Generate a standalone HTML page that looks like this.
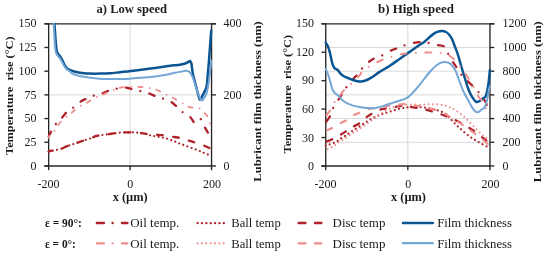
<!DOCTYPE html>
<html><head><meta charset="utf-8"><style>html,body{margin:0;padding:0;background:#fff;width:550px;height:257px;overflow:hidden}svg{display:block;will-change:transform}</style></head>
<body><svg width="550" height="257" viewBox="0 0 550 257" font-family='"Liberation Serif", serif' fill="#1a1a1a"><line x1="48.65" y1="94.88" x2="211.55" y2="94.88" stroke="#D9D9D9" stroke-width="1"/>
<line x1="130.10" y1="23.8" x2="130.10" y2="165.95" stroke="#D9D9D9" stroke-width="1"/>
<line x1="325.75" y1="142.26" x2="489.95" y2="142.26" stroke="#D9D9D9" stroke-width="1"/>
<line x1="325.75" y1="118.57" x2="489.95" y2="118.57" stroke="#D9D9D9" stroke-width="1"/>
<line x1="325.75" y1="94.88" x2="489.95" y2="94.88" stroke="#D9D9D9" stroke-width="1"/>
<line x1="325.75" y1="71.18" x2="489.95" y2="71.18" stroke="#D9D9D9" stroke-width="1"/>
<line x1="325.75" y1="47.49" x2="489.95" y2="47.49" stroke="#D9D9D9" stroke-width="1"/>
<line x1="407.85" y1="23.8" x2="407.85" y2="165.95" stroke="#D9D9D9" stroke-width="1"/>
<line x1="48.65" y1="23.2" x2="48.65" y2="166.54999999999998" stroke="#262626" stroke-width="1.35"/>
<line x1="211.55" y1="23.2" x2="211.55" y2="166.54999999999998" stroke="#262626" stroke-width="1.35"/>
<line x1="44.35" y1="165.95" x2="212.15" y2="165.95" stroke="#262626" stroke-width="1.35"/>
<line x1="44.35" y1="23.8" x2="215.95000000000002" y2="23.8" stroke="#262626" stroke-width="1.35"/>
<line x1="44.35" y1="165.95" x2="48.65" y2="165.95" stroke="#262626" stroke-width="1.35"/>
<line x1="44.35" y1="142.26" x2="48.65" y2="142.26" stroke="#262626" stroke-width="1.35"/>
<line x1="44.35" y1="118.57" x2="48.65" y2="118.57" stroke="#262626" stroke-width="1.35"/>
<line x1="44.35" y1="94.88" x2="48.65" y2="94.88" stroke="#262626" stroke-width="1.35"/>
<line x1="44.35" y1="71.18" x2="48.65" y2="71.18" stroke="#262626" stroke-width="1.35"/>
<line x1="44.35" y1="47.49" x2="48.65" y2="47.49" stroke="#262626" stroke-width="1.35"/>
<line x1="44.35" y1="23.80" x2="48.65" y2="23.80" stroke="#262626" stroke-width="1.35"/>
<line x1="211.55" y1="165.95" x2="215.95000000000002" y2="165.95" stroke="#262626" stroke-width="1.35"/>
<line x1="211.55" y1="94.88" x2="215.95000000000002" y2="94.88" stroke="#262626" stroke-width="1.35"/>
<line x1="211.55" y1="23.80" x2="215.95000000000002" y2="23.80" stroke="#262626" stroke-width="1.35"/>
<line x1="48.65" y1="165.95" x2="48.65" y2="170.14999999999998" stroke="#262626" stroke-width="1.35"/>
<line x1="130.10" y1="165.95" x2="130.10" y2="170.14999999999998" stroke="#262626" stroke-width="1.35"/>
<line x1="211.55" y1="165.95" x2="211.55" y2="170.14999999999998" stroke="#262626" stroke-width="1.35"/>
<line x1="325.75" y1="23.2" x2="325.75" y2="166.54999999999998" stroke="#262626" stroke-width="1.35"/>
<line x1="489.95" y1="23.2" x2="489.95" y2="166.54999999999998" stroke="#262626" stroke-width="1.35"/>
<line x1="321.45" y1="165.95" x2="490.55" y2="165.95" stroke="#262626" stroke-width="1.35"/>
<line x1="321.45" y1="23.8" x2="494.34999999999997" y2="23.8" stroke="#262626" stroke-width="1.35"/>
<line x1="321.45" y1="165.95" x2="325.75" y2="165.95" stroke="#262626" stroke-width="1.35"/>
<line x1="321.45" y1="137.52" x2="325.75" y2="137.52" stroke="#262626" stroke-width="1.35"/>
<line x1="321.45" y1="109.09" x2="325.75" y2="109.09" stroke="#262626" stroke-width="1.35"/>
<line x1="321.45" y1="80.66" x2="325.75" y2="80.66" stroke="#262626" stroke-width="1.35"/>
<line x1="321.45" y1="52.23" x2="325.75" y2="52.23" stroke="#262626" stroke-width="1.35"/>
<line x1="321.45" y1="23.80" x2="325.75" y2="23.80" stroke="#262626" stroke-width="1.35"/>
<line x1="489.95" y1="165.95" x2="494.34999999999997" y2="165.95" stroke="#262626" stroke-width="1.35"/>
<line x1="489.95" y1="142.26" x2="494.34999999999997" y2="142.26" stroke="#262626" stroke-width="1.35"/>
<line x1="489.95" y1="118.57" x2="494.34999999999997" y2="118.57" stroke="#262626" stroke-width="1.35"/>
<line x1="489.95" y1="94.88" x2="494.34999999999997" y2="94.88" stroke="#262626" stroke-width="1.35"/>
<line x1="489.95" y1="71.18" x2="494.34999999999997" y2="71.18" stroke="#262626" stroke-width="1.35"/>
<line x1="489.95" y1="47.49" x2="494.34999999999997" y2="47.49" stroke="#262626" stroke-width="1.35"/>
<line x1="489.95" y1="23.80" x2="494.34999999999997" y2="23.80" stroke="#262626" stroke-width="1.35"/>
<line x1="325.75" y1="165.95" x2="325.75" y2="170.14999999999998" stroke="#262626" stroke-width="1.35"/>
<line x1="407.85" y1="165.95" x2="407.85" y2="170.14999999999998" stroke="#262626" stroke-width="1.35"/>
<line x1="489.95" y1="165.95" x2="489.95" y2="170.14999999999998" stroke="#262626" stroke-width="1.35"/>
<defs><clipPath id="cl"><rect x="47.4" y="23.1" width="165.4" height="143.5"/></clipPath><clipPath id="cr"><rect x="324.5" y="23.1" width="166.6" height="143.5"/></clipPath></defs>
<path d="M48.50,151.50 C48.75,151.42 48.92,151.22 50.00,151.00 C51.08,150.78 53.17,150.57 55.00,150.20 C56.83,149.83 59.22,149.37 61.00,148.80 C62.78,148.23 64.23,147.40 65.70,146.80 C67.17,146.20 68.42,145.70 69.80,145.20 C71.18,144.70 72.18,144.42 74.00,143.80 C75.82,143.18 78.70,142.17 80.70,141.50 C82.70,140.83 84.18,140.38 86.00,139.80 C87.82,139.22 89.98,138.60 91.60,138.00 C93.22,137.40 94.30,136.65 95.70,136.20 C97.10,135.75 98.45,135.55 100.00,135.30 C101.55,135.05 103.33,134.92 105.00,134.70 C106.67,134.48 108.00,134.28 110.00,134.00 C112.00,133.72 114.83,133.25 117.00,133.00 C119.17,132.75 120.83,132.62 123.00,132.50 C125.17,132.38 127.67,132.28 130.00,132.30 C132.33,132.32 134.50,132.38 137.00,132.60 C139.50,132.82 143.00,133.28 145.00,133.60 C147.00,133.92 147.17,134.32 149.00,134.50 C150.83,134.68 153.53,134.58 156.00,134.70 C158.47,134.82 161.13,134.85 163.80,135.20 C166.47,135.55 169.30,136.37 172.00,136.80 C174.70,137.23 177.83,137.33 180.00,137.80 C182.17,138.27 182.50,138.82 185.00,139.60 C187.50,140.38 192.00,141.57 195.00,142.50 C198.00,143.43 200.67,144.32 203.00,145.20 C205.33,146.08 207.62,147.17 209.00,147.80 C210.38,148.43 210.92,148.80 211.30,149.00" fill="none" stroke="#B0222A" stroke-width="2.3" stroke-linejoin="round" stroke-linecap="round" stroke-dasharray="5.55 10.65" stroke-dashoffset="1.75" clip-path="url(#cl)"/>
<path d="M48.50,151.50 C48.75,151.42 48.92,151.22 50.00,151.00 C51.08,150.78 53.17,150.57 55.00,150.20 C56.83,149.83 59.22,149.37 61.00,148.80 C62.78,148.23 64.23,147.40 65.70,146.80 C67.17,146.20 68.42,145.70 69.80,145.20 C71.18,144.70 72.18,144.42 74.00,143.80 C75.82,143.18 78.70,142.17 80.70,141.50 C82.70,140.83 84.18,140.38 86.00,139.80 C87.82,139.22 89.98,138.60 91.60,138.00 C93.22,137.40 94.30,136.65 95.70,136.20 C97.10,135.75 98.45,135.55 100.00,135.30 C101.55,135.05 103.33,134.92 105.00,134.70 C106.67,134.48 108.00,134.28 110.00,134.00 C112.00,133.72 114.83,133.25 117.00,133.00 C119.17,132.75 120.83,132.62 123.00,132.50 C125.17,132.38 127.67,132.28 130.00,132.30 C132.33,132.32 134.50,132.38 137.00,132.60 C139.50,132.82 143.00,133.20 145.00,133.60 C147.00,134.00 147.57,134.60 149.00,135.00 C150.43,135.40 152.10,135.72 153.60,136.00 C155.10,136.28 156.50,136.45 158.00,136.70 C159.50,136.95 161.13,137.18 162.60,137.50 C164.07,137.82 165.38,138.17 166.80,138.60 C168.22,139.03 169.70,139.58 171.10,140.10 C172.50,140.62 173.90,141.17 175.20,141.70 C176.50,142.23 177.27,142.67 178.90,143.30 C180.53,143.93 182.32,144.52 185.00,145.50 C187.68,146.48 192.00,148.03 195.00,149.20 C198.00,150.37 200.67,151.53 203.00,152.50 C205.33,153.47 207.62,154.42 209.00,155.00 C210.38,155.58 210.92,155.83 211.30,156.00" fill="none" stroke="#B0222A" stroke-width="2.2" stroke-linejoin="round" stroke-linecap="round" stroke-dasharray="0.01 4.35" stroke-dashoffset="0" clip-path="url(#cl)"/>
<path d="M48.50,136.50 C49.08,135.42 50.80,132.05 52.00,130.00 C53.20,127.95 54.62,125.70 55.70,124.20 C56.78,122.70 57.53,121.98 58.50,121.00 C59.47,120.02 60.35,119.55 61.50,118.30 C62.65,117.05 64.15,114.80 65.40,113.50 C66.65,112.20 67.70,111.48 69.00,110.50 C70.30,109.52 71.53,108.88 73.20,107.60 C74.87,106.32 77.53,103.93 79.00,102.80 C80.47,101.67 80.85,101.45 82.00,100.80 C83.15,100.15 84.57,99.53 85.90,98.90 C87.23,98.27 88.65,97.55 90.00,97.00 C91.35,96.45 92.67,96.02 94.00,95.60 C95.33,95.18 96.67,94.85 98.00,94.50 C99.33,94.15 100.33,94.08 102.00,93.50 C103.67,92.92 105.67,91.78 108.00,91.00 C110.33,90.22 113.33,89.37 116.00,88.80 C118.67,88.23 122.00,87.73 124.00,87.60 C126.00,87.47 126.67,87.73 128.00,88.00 C129.33,88.27 130.00,88.70 132.00,89.20 C134.00,89.70 137.33,90.37 140.00,91.00 C142.67,91.63 145.33,92.10 148.00,93.00 C150.67,93.90 153.50,95.48 156.00,96.40 C158.50,97.32 160.53,97.62 163.00,98.50 C165.47,99.38 168.52,100.37 170.80,101.70 C173.08,103.03 174.68,104.72 176.70,106.50 C178.72,108.28 180.63,110.62 182.90,112.40 C185.17,114.18 188.32,115.48 190.30,117.20 C192.28,118.92 193.13,122.43 194.80,122.70 C196.47,122.97 198.70,118.15 200.30,118.80 C201.90,119.45 203.08,124.23 204.40,126.60 C205.72,128.97 207.05,131.27 208.20,133.00 C209.35,134.73 210.78,136.33 211.30,137.00" fill="none" stroke="#B0222A" stroke-width="2.3" stroke-linejoin="round" stroke-linecap="round" stroke-dasharray="5.7 9.05 0.01 9.29" stroke-dashoffset="0.3" clip-path="url(#cl)"/>
<path d="M54.30,22.50 C54.40,23.75 54.70,27.25 54.90,30.00 C55.10,32.75 55.30,36.25 55.50,39.00 C55.70,41.75 55.88,44.45 56.10,46.50 C56.32,48.55 56.48,50.08 56.80,51.30 C57.12,52.52 57.47,52.97 58.00,53.80 C58.53,54.63 59.37,55.40 60.00,56.30 C60.63,57.20 61.23,58.17 61.80,59.20 C62.37,60.23 62.83,61.37 63.40,62.50 C63.97,63.63 64.52,64.95 65.20,66.00 C65.88,67.05 66.53,68.08 67.50,68.80 C68.47,69.52 69.58,69.77 71.00,70.30 C72.42,70.83 74.17,71.55 76.00,72.00 C77.83,72.45 79.67,72.73 82.00,73.00 C84.33,73.27 86.83,73.50 90.00,73.60 C93.17,73.70 97.67,73.65 101.00,73.60 C104.33,73.55 106.83,73.53 110.00,73.30 C113.17,73.07 116.50,72.58 120.00,72.20 C123.50,71.82 126.83,71.50 131.00,71.00 C135.17,70.50 141.00,69.72 145.00,69.20 C149.00,68.68 151.17,68.42 155.00,67.90 C158.83,67.38 163.67,66.68 168.00,66.10 C172.33,65.52 178.12,64.83 181.00,64.40 C183.88,63.97 184.13,63.87 185.30,63.50 C186.47,63.13 187.28,62.60 188.00,62.20 C188.72,61.80 189.17,61.17 189.60,61.10 C190.03,61.03 190.28,61.32 190.60,61.80 C190.92,62.28 191.13,62.05 191.50,64.00 C191.87,65.95 192.23,70.50 192.80,73.50 C193.37,76.50 194.18,79.17 194.90,82.00 C195.62,84.83 196.38,87.83 197.10,90.50 C197.82,93.17 198.67,96.50 199.20,98.00 C199.73,99.50 199.77,99.85 200.30,99.50 C200.83,99.15 201.70,97.22 202.40,95.90 C203.10,94.58 203.78,93.20 204.50,91.60 C205.22,90.00 206.17,88.97 206.70,86.30 C207.23,83.63 207.35,79.52 207.70,75.60 C208.05,71.68 208.43,67.40 208.80,62.80 C209.17,58.20 209.57,52.47 209.90,48.00 C210.23,43.53 210.57,38.92 210.80,36.00 C211.03,33.08 211.22,31.42 211.30,30.50" fill="none" stroke="#0A5592" stroke-width="2.5" stroke-linejoin="round" stroke-linecap="round" clip-path="url(#cl)"/>
<path d="M48.50,137.50 C48.75,137.17 49.28,136.27 50.00,135.50 C50.72,134.73 51.88,133.90 52.80,132.90 C53.72,131.90 54.53,130.90 55.50,129.50 C56.47,128.10 57.52,126.00 58.60,124.50 C59.68,123.00 60.53,121.92 62.00,120.50 C63.47,119.08 65.90,117.25 67.40,116.00 C68.90,114.75 69.87,113.90 71.00,113.00 C72.13,112.10 73.03,111.50 74.20,110.60 C75.37,109.70 76.70,108.53 78.00,107.60 C79.30,106.67 80.53,105.80 82.00,105.00 C83.47,104.20 85.18,103.72 86.80,102.80 C88.42,101.88 90.00,100.47 91.70,99.50 C93.40,98.53 95.12,97.83 97.00,97.00 C98.88,96.17 100.83,95.42 103.00,94.50 C105.17,93.58 108.00,92.33 110.00,91.50 C112.00,90.67 113.17,90.17 115.00,89.50 C116.83,88.83 118.50,87.95 121.00,87.50 C123.50,87.05 126.83,86.88 130.00,86.80 C133.17,86.72 136.83,86.80 140.00,87.00 C143.17,87.20 146.17,87.50 149.00,88.00 C151.83,88.50 154.33,89.00 157.00,90.00 C159.67,91.00 162.37,92.70 165.00,94.00 C167.63,95.30 169.88,96.27 172.80,97.80 C175.72,99.33 180.07,101.75 182.50,103.20 C184.93,104.65 185.73,105.77 187.40,106.50 C189.07,107.23 190.63,107.37 192.50,107.60 C194.37,107.83 196.67,107.08 198.60,107.90 C200.53,108.72 202.62,111.05 204.10,112.50 C205.58,113.95 206.58,114.90 207.50,116.60 C208.42,118.30 208.97,121.22 209.60,122.70 C210.23,124.18 211.02,125.03 211.30,125.50" fill="none" stroke="#EF8C8C" stroke-width="1.8" stroke-linejoin="round" stroke-linecap="round" stroke-dasharray="4.15 7.375 0.01 6.715" stroke-dashoffset="2.225" clip-path="url(#cl)"/>
<path d="M53.60,22.50 C53.67,23.75 53.85,27.25 54.00,30.00 C54.15,32.75 54.33,36.25 54.50,39.00 C54.67,41.75 54.78,44.30 55.00,46.50 C55.22,48.70 55.43,50.78 55.80,52.20 C56.17,53.62 56.63,54.12 57.20,55.00 C57.77,55.88 58.55,56.62 59.20,57.50 C59.85,58.38 60.52,59.33 61.10,60.30 C61.68,61.27 62.12,62.23 62.70,63.30 C63.28,64.37 63.88,65.67 64.60,66.70 C65.32,67.73 66.10,68.70 67.00,69.50 C67.90,70.30 68.95,70.72 70.00,71.50 C71.05,72.28 71.63,73.45 73.30,74.20 C74.97,74.95 77.73,75.48 80.00,76.00 C82.27,76.52 84.40,76.92 86.90,77.30 C89.40,77.68 92.32,78.03 95.00,78.30 C97.68,78.57 99.67,78.77 103.00,78.90 C106.33,79.03 111.33,79.08 115.00,79.10 C118.67,79.12 122.33,79.08 125.00,79.00 C127.67,78.92 128.50,78.80 131.00,78.60 C133.50,78.40 136.00,78.15 140.00,77.80 C144.00,77.45 150.83,76.97 155.00,76.50 C159.17,76.03 161.67,75.62 165.00,75.00 C168.33,74.38 172.17,73.38 175.00,72.80 C177.83,72.22 180.28,71.83 182.00,71.50 C183.72,71.17 184.03,70.72 185.30,70.80 C186.57,70.88 188.35,70.85 189.60,72.00 C190.85,73.15 191.73,75.15 192.80,77.70 C193.87,80.25 194.93,84.27 196.00,87.30 C197.07,90.33 198.32,93.77 199.20,95.90 C200.08,98.03 200.58,99.57 201.30,100.10 C202.02,100.63 202.60,100.33 203.50,99.10 C204.40,97.87 205.82,95.55 206.70,92.70 C207.58,89.85 208.25,85.45 208.80,82.00 C209.35,78.55 209.58,75.50 210.00,72.00 C210.42,68.50 211.08,62.83 211.30,61.00" fill="none" stroke="#74A7D6" stroke-width="2.0" stroke-linejoin="round" stroke-linecap="round" clip-path="url(#cl)"/>
<path d="M325.50,123.00 C325.83,122.50 326.78,121.08 327.50,120.00 C328.22,118.92 328.90,118.42 329.80,116.50 C330.70,114.58 331.60,111.08 332.90,108.50 C334.20,105.92 336.05,103.42 337.60,101.00 C339.15,98.58 340.72,96.33 342.20,94.00 C343.68,91.67 345.20,88.87 346.50,87.00 C347.80,85.13 348.65,84.38 350.00,82.80 C351.35,81.22 353.25,78.97 354.60,77.50 C355.95,76.03 356.87,75.50 358.10,74.00 C359.33,72.50 360.68,70.17 362.00,68.50 C363.32,66.83 364.67,65.25 366.00,64.00 C367.33,62.75 368.50,62.00 370.00,61.00 C371.50,60.00 373.00,58.92 375.00,58.00 C377.00,57.08 379.50,56.67 382.00,55.50 C384.50,54.33 387.67,52.15 390.00,51.00 C392.33,49.85 393.50,49.55 396.00,48.60 C398.50,47.65 402.17,46.23 405.00,45.30 C407.83,44.37 410.33,43.55 413.00,43.00 C415.67,42.45 418.33,42.00 421.00,42.00 C423.67,42.00 426.33,42.50 429.00,43.00 C431.67,43.50 434.50,44.43 437.00,45.00 C439.50,45.57 442.42,45.57 444.00,46.40 C445.58,47.23 445.75,48.65 446.50,50.00 C447.25,51.35 447.58,52.75 448.50,54.50 C449.42,56.25 450.75,58.50 452.00,60.50 C453.25,62.50 454.83,64.67 456.00,66.50 C457.17,68.33 457.83,69.83 459.00,71.50 C460.17,73.17 461.83,75.17 463.00,76.50 C464.17,77.83 464.73,78.25 466.00,79.50 C467.27,80.75 468.67,82.08 470.60,84.00 C472.53,85.92 475.68,88.73 477.60,91.00 C479.52,93.27 480.77,95.77 482.10,97.60 C483.43,99.43 484.70,100.27 485.60,102.00 C486.50,103.73 486.78,106.17 487.50,108.00 C488.22,109.83 489.50,112.17 489.90,113.00" fill="none" stroke="#B0222A" stroke-width="2.3" stroke-linejoin="round" stroke-linecap="round" stroke-dasharray="5.7 9.05 0.01 9.74" stroke-dashoffset="22.2" clip-path="url(#cr)"/>
<path d="M325.50,145.50 C326.08,145.33 327.67,144.92 329.00,144.50 C330.33,144.08 332.17,143.53 333.50,143.00 C334.83,142.47 335.83,142.03 337.00,141.30 C338.17,140.57 339.23,139.45 340.50,138.60 C341.77,137.75 343.45,136.93 344.60,136.20 C345.75,135.47 346.35,134.90 347.40,134.20 C348.45,133.50 349.75,132.78 350.90,132.00 C352.05,131.22 353.07,130.30 354.30,129.50 C355.53,128.70 356.95,128.03 358.30,127.20 C359.65,126.37 361.03,125.40 362.40,124.50 C363.77,123.60 365.13,122.68 366.50,121.80 C367.87,120.92 369.23,119.98 370.60,119.20 C371.97,118.42 373.35,117.77 374.70,117.10 C376.05,116.43 377.32,115.75 378.70,115.20 C380.08,114.65 381.60,114.23 383.00,113.80 C384.40,113.37 385.67,113.03 387.10,112.60 C388.53,112.17 390.12,111.67 391.60,111.20 C393.08,110.73 394.60,110.23 396.00,109.80 C397.40,109.37 398.50,108.95 400.00,108.60 C401.50,108.25 403.33,107.93 405.00,107.70 C406.67,107.47 407.50,107.28 410.00,107.20 C412.50,107.12 417.08,107.07 420.00,107.20 C422.92,107.33 425.62,107.75 427.50,108.00 C429.38,108.25 429.80,108.37 431.30,108.70 C432.80,109.03 435.00,109.57 436.50,110.00 C438.00,110.43 439.02,110.83 440.30,111.30 C441.58,111.77 442.92,112.02 444.20,112.80 C445.48,113.58 446.70,114.72 448.00,116.00 C449.30,117.28 450.17,118.58 452.00,120.50 C453.83,122.42 456.28,125.00 459.00,127.50 C461.72,130.00 465.20,133.17 468.30,135.50 C471.40,137.83 474.48,139.65 477.60,141.50 C480.72,143.35 484.95,145.52 487.00,146.60 C489.05,147.68 489.42,147.77 489.90,148.00" fill="none" stroke="#B0222A" stroke-width="2.2" stroke-linejoin="round" stroke-linecap="round" stroke-dasharray="0.01 4.35" stroke-dashoffset="0" clip-path="url(#cr)"/>
<path d="M325.50,142.00 C326.63,141.53 330.00,140.28 332.30,139.20 C334.60,138.12 336.97,136.85 339.30,135.50 C341.63,134.15 344.17,132.47 346.30,131.10 C348.43,129.73 349.75,128.70 352.10,127.30 C354.45,125.90 357.82,124.52 360.40,122.70 C362.98,120.88 364.77,118.42 367.60,116.40 C370.43,114.38 374.47,111.90 377.40,110.60 C380.33,109.30 381.97,109.25 385.20,108.60 C388.43,107.95 393.88,107.18 396.80,106.70 C399.72,106.22 400.55,105.70 402.70,105.70 C404.85,105.70 406.90,106.23 409.70,106.70 C412.50,107.17 416.25,107.85 419.50,108.50 C422.75,109.15 425.97,109.75 429.20,110.60 C432.43,111.45 435.93,112.60 438.90,113.60 C441.87,114.60 444.43,115.60 447.00,116.60 C449.57,117.60 451.53,118.28 454.30,119.60 C457.07,120.92 460.48,122.72 463.60,124.50 C466.72,126.28 469.88,128.17 473.00,130.30 C476.12,132.43 479.48,135.10 482.30,137.30 C485.12,139.50 488.63,142.47 489.90,143.50" fill="none" stroke="#B0222A" stroke-width="2.3" stroke-linejoin="round" stroke-linecap="round" stroke-dasharray="5.6 10.0" stroke-dashoffset="13.95" clip-path="url(#cr)"/>
<path d="M325.50,42.60 C325.75,42.93 326.50,43.73 327.00,44.60 C327.50,45.47 328.00,46.40 328.50,47.80 C329.00,49.20 329.58,51.37 330.00,53.00 C330.42,54.63 330.57,55.70 331.00,57.60 C331.43,59.50 332.07,62.72 332.60,64.40 C333.13,66.08 333.72,66.97 334.20,67.70 C334.68,68.43 335.07,68.52 335.50,68.80 C335.93,69.08 336.33,69.08 336.80,69.40 C337.27,69.72 337.63,69.97 338.30,70.70 C338.97,71.43 339.85,72.87 340.80,73.80 C341.75,74.73 342.97,75.67 344.00,76.30 C345.03,76.93 346.00,77.18 347.00,77.60 C348.00,78.02 348.73,78.32 350.00,78.80 C351.27,79.28 353.05,80.03 354.60,80.50 C356.15,80.97 357.93,81.48 359.30,81.60 C360.67,81.72 361.35,81.55 362.80,81.20 C364.25,80.85 366.47,80.17 368.00,79.50 C369.53,78.83 370.05,78.47 372.00,77.20 C373.95,75.93 376.78,73.77 379.70,71.90 C382.62,70.03 386.25,68.12 389.50,66.00 C392.75,63.88 395.95,61.47 399.20,59.20 C402.45,56.93 405.75,54.67 409.00,52.40 C412.25,50.13 416.12,47.38 418.70,45.60 C421.28,43.82 422.62,43.17 424.50,41.70 C426.38,40.23 428.42,38.15 430.00,36.80 C431.58,35.45 432.67,34.47 434.00,33.60 C435.33,32.73 436.67,32.03 438.00,31.60 C439.33,31.17 440.67,30.93 442.00,31.00 C443.33,31.07 444.83,31.42 446.00,32.00 C447.17,32.58 448.00,33.33 449.00,34.50 C450.00,35.67 451.12,37.25 452.00,39.00 C452.88,40.75 453.33,42.45 454.30,45.00 C455.27,47.55 456.63,50.72 457.80,54.30 C458.97,57.88 460.13,62.55 461.30,66.50 C462.47,70.45 463.63,74.25 464.80,78.00 C465.97,81.75 467.18,86.03 468.30,89.00 C469.42,91.97 470.23,93.70 471.50,95.80 C472.77,97.90 474.58,100.72 475.90,101.60 C477.22,102.48 478.23,101.62 479.40,101.10 C480.57,100.58 481.87,99.27 482.90,98.50 C483.93,97.73 484.87,97.83 485.60,96.50 C486.33,95.17 486.78,92.95 487.30,90.50 C487.82,88.05 488.27,85.22 488.70,81.80 C489.13,78.38 489.70,71.97 489.90,70.00" fill="none" stroke="#0A5592" stroke-width="2.5" stroke-linejoin="round" stroke-linecap="round" clip-path="url(#cr)"/>
<path d="M325.50,116.50 C325.83,116.05 326.63,114.97 327.50,113.80 C328.37,112.63 329.58,111.37 330.70,109.50 C331.82,107.63 333.07,104.52 334.20,102.60 C335.33,100.68 336.28,99.52 337.50,98.00 C338.72,96.48 340.20,95.07 341.50,93.50 C342.80,91.93 343.50,90.38 345.30,88.60 C347.10,86.82 349.97,84.93 352.30,82.80 C354.63,80.67 357.68,77.60 359.30,75.80 C360.92,74.00 360.22,73.63 362.00,72.00 C363.78,70.37 366.67,68.00 370.00,66.00 C373.33,64.00 378.33,61.58 382.00,60.00 C385.67,58.42 388.67,57.50 392.00,56.50 C395.33,55.50 399.33,54.53 402.00,54.00 C404.67,53.47 405.67,53.47 408.00,53.30 C410.33,53.13 413.00,53.12 416.00,53.00 C419.00,52.88 422.67,52.67 426.00,52.60 C429.33,52.53 433.33,52.53 436.00,52.60 C438.67,52.67 440.12,52.85 442.00,53.00 C443.88,53.15 445.97,53.00 447.30,53.50 C448.63,54.00 448.83,55.00 450.00,56.00 C451.17,57.00 453.13,58.50 454.30,59.50 C455.47,60.50 455.88,60.67 457.00,62.00 C458.12,63.33 459.70,65.67 461.00,67.50 C462.30,69.33 463.20,70.67 464.80,73.00 C466.40,75.33 469.03,79.02 470.60,81.50 C472.17,83.98 472.88,85.37 474.20,87.90 C475.52,90.43 477.15,94.52 478.50,96.70 C479.85,98.88 481.27,99.38 482.30,101.00 C483.33,102.62 484.00,104.98 484.70,106.40 C485.40,107.82 485.63,107.90 486.50,109.50 C487.37,111.10 489.33,114.92 489.90,116.00" fill="none" stroke="#EF8C8C" stroke-width="2.0" stroke-linejoin="round" stroke-linecap="round" stroke-dasharray="5.8 9.4 0.01 9.59" stroke-dashoffset="23.0" clip-path="url(#cr)"/>
<path d="M325.50,150.00 C326.08,149.75 327.67,149.17 329.00,148.50 C330.33,147.83 332.17,146.80 333.50,146.00 C334.83,145.20 335.83,144.53 337.00,143.70 C338.17,142.87 339.23,141.87 340.50,141.00 C341.77,140.13 343.02,139.50 344.60,138.50 C346.18,137.50 348.10,136.25 350.00,135.00 C351.90,133.75 353.83,132.42 356.00,131.00 C358.17,129.58 360.67,128.08 363.00,126.50 C365.33,124.92 367.67,123.17 370.00,121.50 C372.33,119.83 374.67,118.17 377.00,116.50 C379.33,114.83 381.50,112.92 384.00,111.50 C386.50,110.08 389.33,109.00 392.00,108.00 C394.67,107.00 397.00,106.07 400.00,105.50 C403.00,104.93 406.27,104.73 410.00,104.60 C413.73,104.47 419.40,104.75 422.40,104.70 C425.40,104.65 426.07,104.38 428.00,104.30 C429.93,104.22 432.05,104.15 434.00,104.20 C435.95,104.25 437.78,104.37 439.70,104.60 C441.62,104.83 443.78,105.12 445.50,105.60 C447.22,106.08 448.53,106.85 450.00,107.50 C451.47,108.15 452.03,108.03 454.30,109.50 C456.57,110.97 460.48,113.62 463.60,116.30 C466.72,118.98 469.88,122.48 473.00,125.60 C476.12,128.72 479.48,132.60 482.30,135.00 C485.12,137.40 488.63,139.17 489.90,140.00" fill="none" stroke="#EF8C8C" stroke-width="2.0" stroke-linejoin="round" stroke-linecap="round" stroke-dasharray="0.01 4.35" stroke-dashoffset="2" clip-path="url(#cr)"/>
<path d="M325.50,131.00 C326.63,130.48 329.98,129.12 332.30,127.90 C334.62,126.68 337.00,125.02 339.40,123.70 C341.80,122.38 344.53,121.33 346.70,120.00 C348.87,118.67 350.17,116.93 352.40,115.70 C354.63,114.47 357.57,113.68 360.10,112.60 C362.63,111.52 365.20,109.93 367.60,109.20 C370.00,108.47 371.60,108.70 374.50,108.20 C377.40,107.70 380.95,106.78 385.00,106.20 C389.05,105.62 395.70,105.07 398.80,104.70 C401.90,104.33 401.73,103.97 403.60,104.00 C405.47,104.03 407.27,104.53 410.00,104.90 C412.73,105.27 416.67,105.62 420.00,106.20 C423.33,106.78 426.67,107.50 430.00,108.40 C433.33,109.30 437.00,110.40 440.00,111.60 C443.00,112.80 445.50,114.23 448.00,115.60 C450.50,116.97 452.33,118.10 455.00,119.80 C457.67,121.50 461.00,123.73 464.00,125.80 C467.00,127.87 470.00,130.00 473.00,132.20 C476.00,134.40 479.18,136.70 482.00,139.00 C484.82,141.30 488.58,144.83 489.90,146.00" fill="none" stroke="#EF8C8C" stroke-width="2.1" stroke-linejoin="round" stroke-linecap="round" stroke-dasharray="5.6 10.0" stroke-dashoffset="13.95" clip-path="url(#cr)"/>
<path d="M325.50,68.80 C325.88,69.58 327.02,71.37 327.80,73.50 C328.58,75.63 329.42,78.97 330.20,81.60 C330.98,84.23 331.73,87.40 332.50,89.30 C333.27,91.20 334.13,92.18 334.80,93.00 C335.47,93.82 335.78,93.67 336.50,94.20 C337.22,94.73 338.15,95.22 339.10,96.20 C340.05,97.18 340.90,98.93 342.20,100.10 C343.50,101.27 345.08,102.28 346.90,103.20 C348.72,104.12 350.92,104.97 353.10,105.60 C355.28,106.23 357.85,106.60 360.00,107.00 C362.15,107.40 363.58,107.80 366.00,108.00 C368.42,108.20 371.47,108.58 374.50,108.20 C377.53,107.82 380.97,106.67 384.20,105.70 C387.43,104.73 391.27,103.27 393.90,102.40 C396.53,101.53 398.15,101.10 400.00,100.50 C401.85,99.90 403.50,99.47 405.00,98.80 C406.50,98.13 407.67,97.55 409.00,96.50 C410.33,95.45 411.67,93.92 413.00,92.50 C414.33,91.08 415.67,89.58 417.00,88.00 C418.33,86.42 419.67,84.67 421.00,83.00 C422.33,81.33 423.75,79.58 425.00,78.00 C426.25,76.42 427.33,74.92 428.50,73.50 C429.67,72.08 430.75,70.78 432.00,69.50 C433.25,68.22 434.67,66.85 436.00,65.80 C437.33,64.75 438.67,63.83 440.00,63.20 C441.33,62.57 442.67,62.10 444.00,62.00 C445.33,61.90 446.83,62.23 448.00,62.60 C449.17,62.97 449.75,62.87 451.00,64.20 C452.25,65.53 454.17,67.97 455.50,70.60 C456.83,73.23 457.65,76.50 459.00,80.00 C460.35,83.50 462.05,88.18 463.60,91.60 C465.15,95.02 466.98,98.03 468.30,100.50 C469.62,102.97 470.38,104.60 471.50,106.40 C472.62,108.20 473.97,110.32 475.00,111.30 C476.03,112.28 476.67,112.53 477.70,112.30 C478.73,112.07 480.03,110.78 481.20,109.90 C482.37,109.02 483.68,108.77 484.70,107.00 C485.72,105.23 486.63,102.05 487.30,99.30 C487.97,96.55 488.27,92.72 488.70,90.50 C489.13,88.28 489.70,86.75 489.90,86.00" fill="none" stroke="#74A7D6" stroke-width="2.0" stroke-linejoin="round" stroke-linecap="round" clip-path="url(#cr)"/>
<text x="96.5" y="13.3" font-size="12.2" text-anchor="start" font-weight="bold" textLength="70.6" lengthAdjust="spacingAndGlyphs">a) Low speed</text>
<text x="378.0" y="13.3" font-size="12.2" text-anchor="start" font-weight="bold" textLength="75.8" lengthAdjust="spacingAndGlyphs">b) High speed</text>
<text x="36.4" y="170.10" font-size="12" text-anchor="end">0</text>
<text x="36.4" y="146.29" font-size="12" text-anchor="end">25</text>
<text x="36.4" y="122.48" font-size="12" text-anchor="end">50</text>
<text x="36.4" y="98.67" font-size="12" text-anchor="end">75</text>
<text x="36.4" y="74.87" font-size="12" text-anchor="end">100</text>
<text x="36.4" y="51.06" font-size="12" text-anchor="end">125</text>
<text x="36.4" y="27.25" font-size="12" text-anchor="end">150</text>
<text x="223.6" y="170.10" font-size="12" text-anchor="start">0</text>
<text x="223.6" y="98.67" font-size="12" text-anchor="start">200</text>
<text x="223.6" y="27.25" font-size="12" text-anchor="start">400</text>
<text x="314.1" y="170.10" font-size="12" text-anchor="end">0</text>
<text x="314.1" y="141.53" font-size="12" text-anchor="end">30</text>
<text x="314.1" y="112.96" font-size="12" text-anchor="end">60</text>
<text x="314.1" y="84.39" font-size="12" text-anchor="end">90</text>
<text x="314.1" y="55.82" font-size="12" text-anchor="end">120</text>
<text x="314.1" y="27.25" font-size="12" text-anchor="end">150</text>
<text x="502.6" y="170.10" font-size="12" text-anchor="start">0</text>
<text x="502.6" y="146.29" font-size="12" text-anchor="start">200</text>
<text x="502.6" y="122.48" font-size="12" text-anchor="start">400</text>
<text x="502.6" y="98.67" font-size="12" text-anchor="start">600</text>
<text x="502.6" y="74.87" font-size="12" text-anchor="start">800</text>
<text x="502.6" y="51.06" font-size="12" text-anchor="start">1000</text>
<text x="502.6" y="27.25" font-size="12" text-anchor="start">1200</text>
<text x="48.4" y="187.7" font-size="12" text-anchor="middle">-200</text>
<text x="130.20000000000002" y="187.7" font-size="12" text-anchor="middle">0</text>
<text x="211.9" y="187.7" font-size="12" text-anchor="middle">200</text>
<text x="130.20000000000002" y="201.4" font-size="11.8" text-anchor="middle" font-weight="bold" textLength="35" lengthAdjust="spacingAndGlyphs">x (µm)</text>
<text x="325.4" y="187.7" font-size="12" text-anchor="middle">-200</text>
<text x="408.3" y="187.7" font-size="12" text-anchor="middle">0</text>
<text x="490.5" y="187.7" font-size="12" text-anchor="middle">200</text>
<text x="408.5" y="201.4" font-size="11.8" text-anchor="middle" font-weight="bold" textLength="35" lengthAdjust="spacingAndGlyphs">x (µm)</text>
<text x="13.2" y="154.9" font-size="11.4" text-anchor="start" font-weight="bold" transform="rotate(-90 13.2 154.9)" textLength="118.4" lengthAdjust="spacingAndGlyphs">Temperature&#160;&#160;rise (°C)</text>
<text x="291.3" y="153.4" font-size="11.4" text-anchor="start" font-weight="bold" transform="rotate(-90 291.3 153.4)" textLength="118.4" lengthAdjust="spacingAndGlyphs">Temperature&#160;&#160;rise (°C)</text>
<text x="261.3" y="181.7" font-size="11.4" text-anchor="start" font-weight="bold" transform="rotate(-90 261.3 181.7)" textLength="160.5" lengthAdjust="spacingAndGlyphs">Lubricant film thickness (nm)</text>
<text x="540.8" y="182.2" font-size="11.4" text-anchor="start" font-weight="bold" transform="rotate(-90 540.8 182.2)" textLength="161" lengthAdjust="spacingAndGlyphs">Lubricant film thickness (nm)</text>
<text x="44.9" y="227.2" font-size="12" text-anchor="start" font-weight="bold" textLength="37.0" lengthAdjust="spacingAndGlyphs">ε = 90°:</text>
<text x="44.9" y="247.6" font-size="12" text-anchor="start" font-weight="bold" textLength="31.0" lengthAdjust="spacingAndGlyphs">ε = 0°:</text>
<line x1="96.85" y1="223.1" x2="103.85" y2="223.1" stroke="#B0222A" stroke-width="2.5" stroke-linecap="round"/>
<line x1="112.6" y1="223.1" x2="112.61" y2="223.1" stroke="#B0222A" stroke-width="2.5" stroke-linecap="round"/>
<line x1="122.05" y1="223.1" x2="127.35" y2="223.1" stroke="#B0222A" stroke-width="2.5" stroke-linecap="round"/>
<line x1="197.65" y1="223.1" x2="226.5" y2="223.1" stroke="#B0222A" stroke-width="2.38" stroke-linecap="round" stroke-dasharray="0.01 4.35"/>
<line x1="298.75" y1="223.1" x2="305.35" y2="223.1" stroke="#B0222A" stroke-width="2.5" stroke-linecap="round"/>
<line x1="315.05" y1="223.1" x2="321.25" y2="223.1" stroke="#B0222A" stroke-width="2.5" stroke-linecap="round"/>
<line x1="96.75" y1="243.3" x2="103.95" y2="243.3" stroke="#EF8C8C" stroke-width="2.3" stroke-linecap="round"/>
<line x1="112.6" y1="243.3" x2="112.61" y2="243.3" stroke="#EF8C8C" stroke-width="2.3" stroke-linecap="round"/>
<line x1="121.95" y1="243.3" x2="127.45" y2="243.3" stroke="#EF8C8C" stroke-width="2.3" stroke-linecap="round"/>
<line x1="197.55" y1="243.3" x2="226.5" y2="243.3" stroke="#EF8C8C" stroke-width="2.18" stroke-linecap="round" stroke-dasharray="0.01 4.35"/>
<line x1="298.65" y1="243.3" x2="305.45" y2="243.3" stroke="#EF8C8C" stroke-width="2.3" stroke-linecap="round"/>
<line x1="314.95" y1="243.3" x2="321.35" y2="243.3" stroke="#EF8C8C" stroke-width="2.3" stroke-linecap="round"/>
<line x1="403.0" y1="223.05" x2="432.8" y2="223.05" stroke="#0A5592" stroke-width="2.5" stroke-linecap="round"/>
<line x1="403.0" y1="243.2" x2="432.8" y2="243.2" stroke="#74A7D6" stroke-width="2.3" stroke-linecap="round"/>
<text x="130.2" y="227.2" font-size="12.4" text-anchor="start" textLength="49.2" lengthAdjust="spacingAndGlyphs">Oil temp.</text>
<text x="231.3" y="227.2" font-size="12.4" text-anchor="start" textLength="49.4" lengthAdjust="spacingAndGlyphs">Ball temp</text>
<text x="332.6" y="227.2" font-size="12.4" text-anchor="start" textLength="52.8" lengthAdjust="spacingAndGlyphs">Disc temp</text>
<text x="437.2" y="227.2" font-size="12.4" text-anchor="start" textLength="74.8" lengthAdjust="spacingAndGlyphs">Film thickness</text>
<text x="130.2" y="247.5" font-size="12.4" text-anchor="start" textLength="49.2" lengthAdjust="spacingAndGlyphs">Oil temp.</text>
<text x="231.3" y="247.5" font-size="12.4" text-anchor="start" textLength="49.4" lengthAdjust="spacingAndGlyphs">Ball temp</text>
<text x="332.6" y="247.5" font-size="12.4" text-anchor="start" textLength="52.8" lengthAdjust="spacingAndGlyphs">Disc temp</text>
<text x="437.2" y="247.5" font-size="12.4" text-anchor="start" textLength="74.8" lengthAdjust="spacingAndGlyphs">Film thickness</text></svg></body></html>
